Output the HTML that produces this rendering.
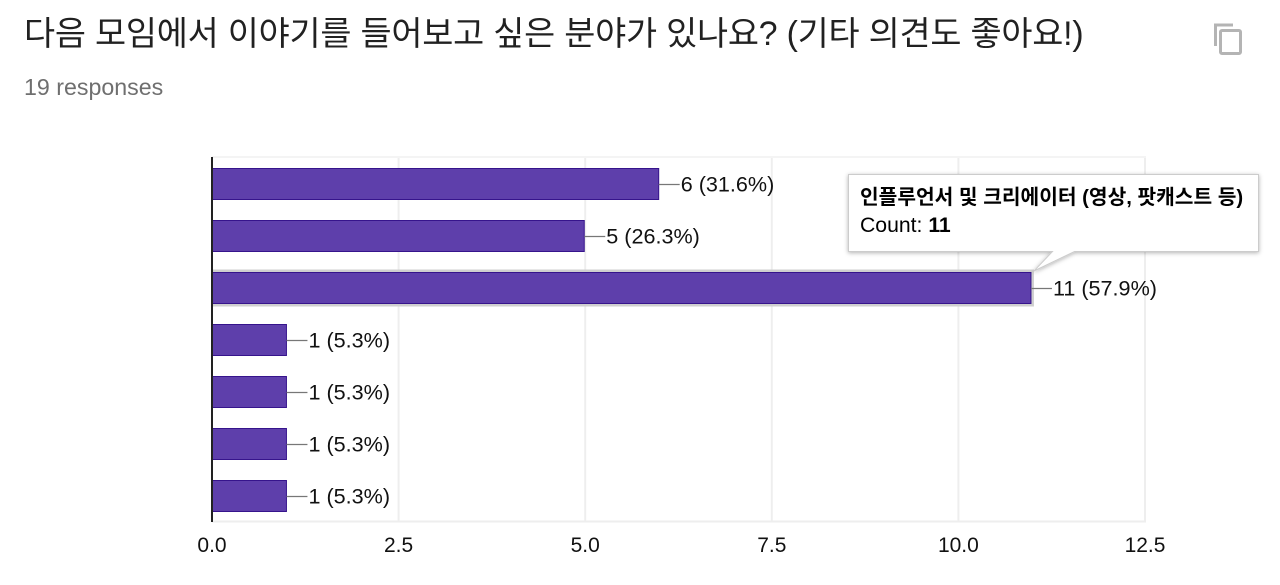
<!DOCTYPE html>
<html lang="ko">
<head>
<meta charset="utf-8">
<title>Survey chart</title>
<style>
html,body{margin:0;padding:0;background:#fff;width:1280px;height:585px;overflow:hidden;font-family:"Liberation Sans","Noto Sans CJK KR",sans-serif}
#title{position:absolute;left:24px;top:12px;font-size:33.8px;line-height:44px;color:#212121;white-space:nowrap;letter-spacing:-0.2px}
#resp{position:absolute;left:24px;top:73px;font-size:23.2px;line-height:28px;color:#6f6f6f;white-space:nowrap}
svg{position:absolute;left:0;top:0}
text{font-family:"Liberation Sans","Noto Sans CJK KR",sans-serif}
</style>
</head>
<body>
<div id="title">다음 모임에서 이야기를 들어보고 싶은 분야가 있나요? (기타 의견도 좋아요!)</div>
<div id="resp">19 responses</div>
<svg id="chart" width="1280" height="585" viewBox="0 0 1280 585">
  <g fill="none" stroke="#b4b4b4" stroke-width="3">
    <path d="M1215.5 46V25H1233"/>
    <rect x="1220.5" y="30.5" width="20" height="23" rx="1.5"/>
  </g>
</svg>
<script>
var categories = ['분야 1', '분야 2', '인플루언서 및 크리에이터 (영상, 팟캐스트 등)', '분야 4', '분야 5', '분야 6', '분야 7'];
var counts = [6, 5, 11, 1, 1, 1, 1];
var percents = [31.6, 26.3, 57.9, 5.3, 5.3, 5.3, 5.3];
var xTicks = [0, 2.5, 5, 7.5, 10, 12.5];
var xTickLabels = ['0.0', '2.5', '5.0', '7.5', '10.0', '12.5'];
var highlighted = 2;

var svg = document.getElementById('chart');
var NS = 'http://www.w3.org/2000/svg';
function make(tag, attrs, parent) {
  var el = document.createElementNS(NS, tag);
  for (var k in attrs) el.setAttribute(k, attrs[k]);
  (parent || svg).appendChild(el);
  return el;
}
function xScale(v) { return 212 + v * (1145 - 212) / 12.5; }
function barEnd(v) { return 212 + v * 74.45; }
function bandTop(i) { return 168 + i * (521 - 157) / categories.length; }
var barH = 32, plotTop = 157, plotBottom = 521;

xTicks.forEach(function (t, i) {
  if (i > 0) {
    var g = make('line', {x1: xScale(t), x2: xScale(t), y1: plotTop, y2: plotBottom, stroke: '#eeeeee', 'stroke-width': 2});
    
    
  }
  var lb = make('text', {x: xScale(t), y: 552, 'text-anchor': 'middle', 'font-size': 21, fill: '#111'});
  lb.textContent = xTickLabels[i];
  
  
});
var topLine = make('line', {x1: 212, x2: 1146, y1: 157, y2: 157, stroke: '#f4f4f4', 'stroke-width': 2});


var baseLine = make('line', {x1: 212, x2: 1146, y1: 521.5, y2: 521.5, stroke: '#eeeeee', 'stroke-width': 2});



var defs = make('defs', {});
var filter = make('filter', {id: 'sh', x: '-5%', y: '-30%', width: '110%', height: '160%'}, defs);
make('feDropShadow', {dx: 0, dy: 1, stdDeviation: 2, 'flood-color': '#000', 'flood-opacity': 0.3}, filter);

counts.forEach(function (c, i) {
  var y = bandTop(i), xe = barEnd(c);
  if (i === highlighted) {
    var halo = make('rect', {x: 212, y: y - 2.5, width: xe - 212 + 3, height: barH + 5, fill: '#cfcfcf'});
    
    
  }
  var bar = make('rect', {x: 212, y: y + 0.5, width: xe - 212, height: barH - 1, fill: '#5e3fab', stroke: '#36148c', 'stroke-width': 1});
  
  
  var lead = make('line', {x1: xe, x2: xe + 21, y1: y + 16.5, y2: y + 16.5, stroke: '#777', 'stroke-width': 1.3});
  
  
  var val = make('text', {x: xe + 22, y: y + 23.5, 'font-size': 21.6, fill: '#111'});
  val.textContent = c + ' (' + percents[i] + '%)';
  
  
});

var axis = make('line', {x1: 212, x2: 212, y1: 157, y2: 522, stroke: '#222', 'stroke-width': 2});



var hy = bandTop(highlighted), hx = barEnd(counts[highlighted]);
var tip = make('g', {});


var tipBody = make('path', {
  d: 'M848.5 174.5H1258.5V251.5H1074.5L' + (hx + 3) + ' ' + (hy - 1) + 'L1052.5 251.5H848.5Z',
  fill: '#fff', stroke: '#ccc', 'stroke-width': 1, filter: 'url(#sh)'
}, tip);


var t1 = make('text', {x: 860, y: 204, 'font-size': 20.3, 'font-weight': 'bold', fill: '#000'}, tip);
t1.textContent = categories[highlighted];


var t2 = make('text', {x: 860, y: 232, 'font-size': 21.2, fill: '#000'}, tip);


var s1 = make('tspan', {}, t2);
s1.textContent = 'Count: ';
var s2 = make('tspan', {'font-weight': 'bold'}, t2);
s2.textContent = counts[highlighted];
</script>
</body>
</html>
